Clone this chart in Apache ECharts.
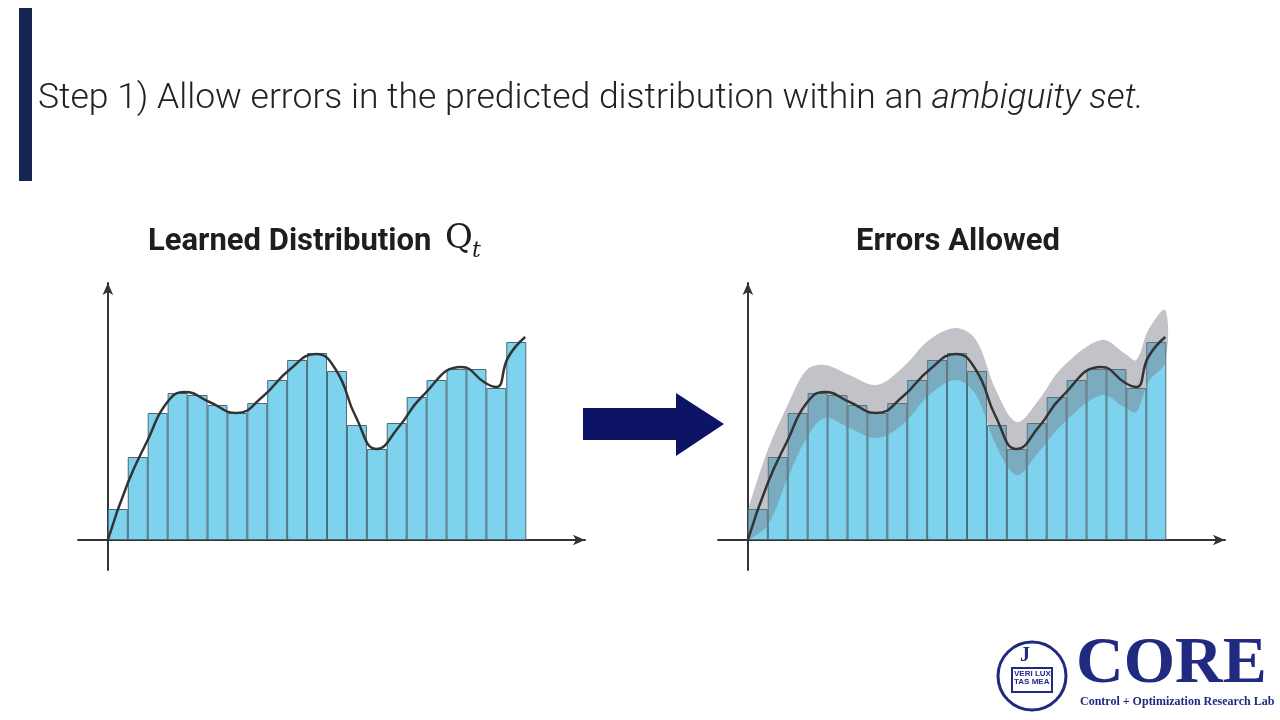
<!DOCTYPE html>
<html><head><meta charset="utf-8">
<script src="https://cdn.jsdelivr.net/npm/echarts@6/dist/echarts.min.js"></script>
<style>html,body{margin:0;padding:0;background:#fff}#c{width:1280px;height:720px}</style>
</head><body><div id="c"></div>
<script>
const barHeights=[31,83,127,147,145,135,127,137,160,180,187,169,115,91,117,143,160,171,171,152,198];
const curveX=[0,1,2,2.95,3.85,5.1,6.45,7.75,9.1,10.45,11.45,12.45,13.5,14.6,15.75,17.75,18.95,19.5,20.1,20.95];
const curveY=[0,57,100,137,148,138,127,143,170,186,170,123,91,113,143,173,157,153,183,203];
const bandUpper=[30,90,135,170,175,165,155,172,200,212,200,150,118,140,172,200,186,180,210,230];
const bandLower=[0,15,62,102,122,112,102,115,145,160,145,95,65,88,115,145,132,128,158,178];
const titleLeft='Learned Distribution';
const titleRight='Errors Allowed';
const heading='Step 1) Allow errors in the predicted distribution within an ';
const headingItalic='ambiguity set.';

const chart=echarts.init(document.getElementById('c'));
const barData=barHeights.map((h,i)=>[i+0.5,h]);
const curve=curveX.map((x,i)=>[x,curveY[i]]);
const bandData=curveX.map((x,i)=>[x,bandLower[i],bandUpper[i]]);
function axes(idx){
  return {
    x:{type:'value',gridIndex:idx,min:-1.5,max:23.95,splitLine:{show:false},axisTick:{show:false},axisLabel:{show:false},
       axisLine:{onZero:true,symbol:['none','arrow'],symbolSize:[8,12],lineStyle:{color:'#333',width:2}}},
    y:{type:'value',gridIndex:idx,min:-30,max:257,splitLine:{show:false},axisTick:{show:false},axisLabel:{show:false},
       axisLine:{show:true,onZero:true,symbol:['none','arrow'],symbolSize:[8,12],lineStyle:{color:'#333',width:2}}}
  };
}
const a0=axes(0),a1=axes(1);
const barStyle={color:'#7dd3ee',borderColor:'#4a6a78',borderWidth:1};
chart.setOption({
  animation:false,
  grid:[{left:78,top:283,width:507,height:287},{left:718,top:283,width:507,height:287}],
  xAxis:[a0.x,a1.x],yAxis:[a0.y,a1.y],
  series:[
    {type:'bar',xAxisIndex:0,yAxisIndex:0,data:barData,barWidth:20,itemStyle:barStyle,z:2},
    {type:'line',xAxisIndex:0,yAxisIndex:0,data:curve,smooth:0.5,showSymbol:false,lineStyle:{color:'#333',width:2.5},z:5},
    {type:'bar',xAxisIndex:1,yAxisIndex:1,data:barData,barWidth:20,itemStyle:barStyle,z:2},
    {type:'custom',xAxisIndex:1,yAxisIndex:1,data:bandData,z:3,
     renderItem:function(params,api){
       if(params.dataIndex!==0) return null;
       const up=[],lo=[];
       for(let i=0;i<bandData.length;i++){
         up.push(api.coord([bandData[i][0],bandData[i][2]]));
         lo.push(api.coord([bandData[i][0],bandData[i][1]]));
       }
       return {type:'group',children:[
         {type:'polyline',shape:{points:up.concat(lo.reverse()),smooth:0.35},style:{fill:'rgba(120,123,132,0.45)',stroke:null}}
       ]};
     }},
    {type:'line',xAxisIndex:1,yAxisIndex:1,data:curve,smooth:0.5,showSymbol:false,lineStyle:{color:'#333',width:2.5},z:5}
  ],
  graphic:[
    {type:'rect',shape:{x:19,y:8,width:13,height:173},style:{fill:'#14254f'}},
    {type:'text',left:38,top:81,style:{text:'{a|'+heading+'}{b|'+headingItalic+'}',rich:{a:{font:'300 35.5px Roboto',fill:'#222'},b:{font:'italic 300 35.5px Roboto',fill:'#222'}}}},
    {type:'text',left:148,top:227,style:{text:titleLeft,font:'bold 31px Roboto',fill:'#1e1e1e'}},
    {type:'text',left:445,top:222,style:{text:'Q',font:'34px "DejaVu Serif"',fill:'#1e1e1e'}},
    {type:'text',left:472,top:240,style:{text:'t',font:'italic 22px "DejaVu Serif"',fill:'#1e1e1e'}},
    {type:'text',left:856,top:227,style:{text:titleRight,font:'bold 31px Roboto',fill:'#1e1e1e'}},
    {type:'polygon',shape:{points:[[583,408],[676,408],[676,393],[724,424],[676,456],[676,440],[583,440]]},style:{fill:'#0d1466'}},
    {type:'circle',shape:{cx:1032,cy:676,r:34},style:{fill:'none',stroke:'#1f2a80',lineWidth:3}},
    {type:'rect',shape:{x:1012,y:668,width:40,height:24},style:{fill:'none',stroke:'#1f2a80',lineWidth:2}},
    {type:'text',left:1014,top:670,style:{text:'VERI LUX\nTAS MEA',font:'bold 8px "Liberation Sans"',fill:'#1f2a80'}},
    {type:'text',left:1020,top:646,style:{text:'J',font:'bold 20px "Liberation Serif"',fill:'#1f2a80'}},
    {type:'text',left:1076,top:632,style:{text:'CORE',font:'bold 66px "Liberation Serif"',fill:'#1f2a80'}},
    {type:'text',left:1080,top:696,style:{text:'Control + Optimization Research Lab',font:'bold 12px "Liberation Serif"',fill:'#1f2a80'}}
  ]
});
</script></body></html>
